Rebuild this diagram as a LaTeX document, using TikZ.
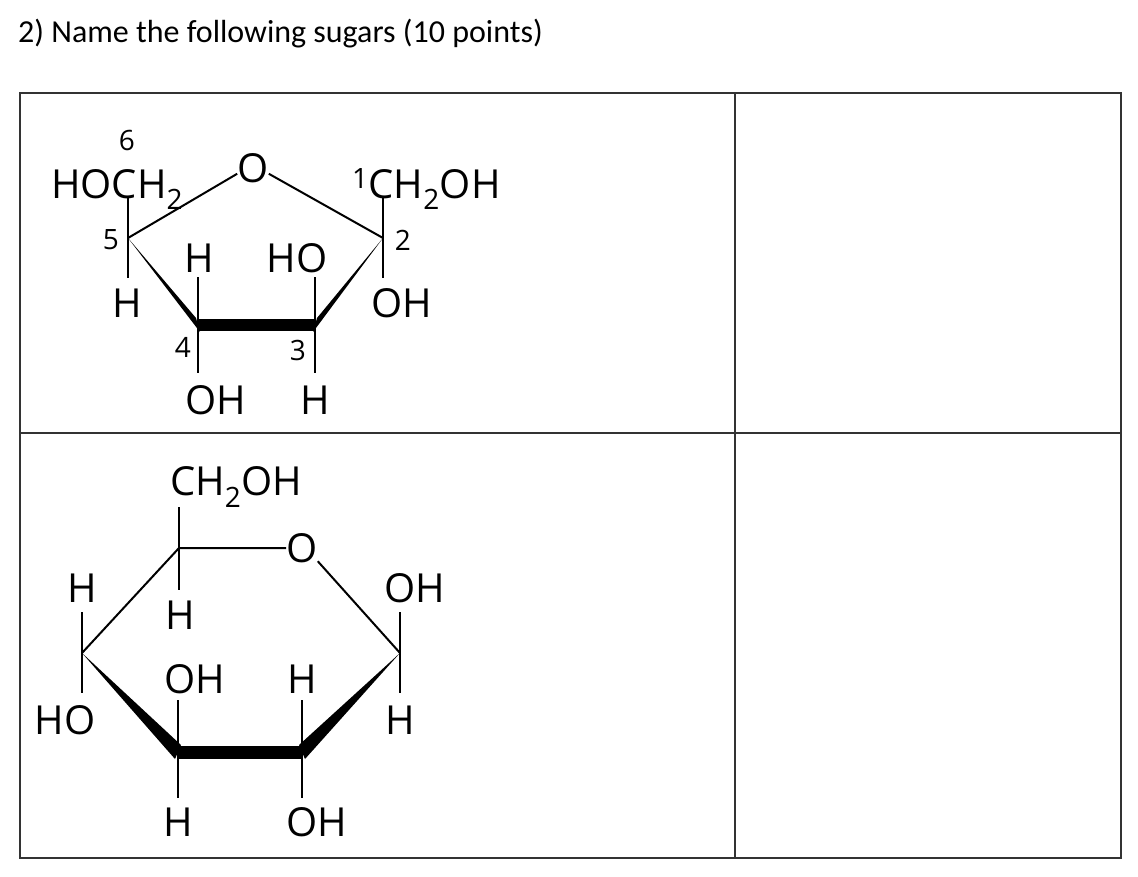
\documentclass[tikz,border=0pt]{standalone}
\usepackage{fontspec}
\setmainfont{Open Sans}
\newfontfamily\titlefont{Carlito}
\usetikzlibrary{calc}
\begin{document}
\begin{tikzpicture}[x=1pt,y=-1pt,
  lab/.style={inner sep=0pt,font=\fontsize{40}{40}\selectfont},
  num/.style={inner sep=0pt,font=\fontsize{28}{28}\selectfont},
  bond/.style={line width=2pt},
  grid/.style={line width=1.6pt,draw=black!80}]
\useasboundingbox (0,0) rectangle (1138,876);
% title
\node[anchor=west,inner sep=0pt,font=\titlefont\fontsize{32}{32}\selectfont] (title) at (18,34) {2) Name the following sugars (10 points)};
% table
\draw[grid] (20,93) rectangle (1121,858);
\draw[grid] (735,93) -- (735,858);
\draw[grid] (20,433) -- (1121,433);
% ---------- top molecule (furanose)
\coordinate (c5) at (128,238);
\coordinate (c4) at (198,325);
\coordinate (c3) at (315,325);
\coordinate (c2) at (383,238);
\node[lab] (o1) at (253,168) {O};
\node[lab,anchor=base west] (hoch) at (51,198) {HOCH\textsubscript{2}};
\node[num] (n6) at (127,140) {6};
\node[lab,anchor=base west] (ch2oh1) at (352,198) {\textsuperscript{1}CH\textsubscript{2}OH};
\node[num] (n5) at (111,240) {5};
\node[num] (n4) at (183,347) {4};
\node[num] (n3) at (298,350) {3};
\node[num] (n2) at (403,240) {2};
\node[lab] (h5) at (127,303) {H};
\node[lab] (h4) at (199,258) {H};
\node[lab] (ho3) at (297,258) {HO};
\node[lab] (oh2) at (402,303) {OH};
\node[lab] (oh4) at (216,400) {OH};
\node[lab] (h3) at (315,400) {H};
\draw[bond] (c5) -- (o1.200);
\draw[bond] (o1.-20) -- (c2);
\fill (c5) -- ($(c4)+(-2,-7)$) -- ($(c4)+(2,7)$) -- cycle;
\draw[line width=12pt] (c4) -- (c3);
\fill (c2) -- ($(c3)+(2,-7)$) -- ($(c3)+(-2,7)$) -- cycle;
\draw[bond] (c5) -- ++(0,40);
\draw[bond] (c5) -- ++(0,-40);
\draw[bond] (c4) -- ++(0,-48);
\draw[bond] (c4) -- ++(0,48);
\draw[bond] (c3) -- ++(0,-48);
\draw[bond] (c3) -- ++(0,48);
\draw[bond] (c2) -- ++(0,-40);
\draw[bond] (c2) -- ++(0,40);
% ---------- bottom molecule (pyranose)
\coordinate (d5) at (179,548);
\coordinate (d4) at (82,653);
\coordinate (d3) at (178,752);
\coordinate (d2) at (302,752);
\coordinate (d1) at (400,653);
\node[lab] (o2) at (302,548) {O};
\node[lab] (ch2oh2) at (236,487) {CH\textsubscript{2}OH};
\node[lab] (h5b) at (180,615) {H};
\node[lab] (oh1) at (415,588) {OH};
\node[lab] (h1) at (400,720) {H};
\node[lab] (h4b) at (82,588) {H};
\node[lab] (ho4) at (65,720) {HO};
\node[lab] (oh3) at (195,679) {OH};
\node[lab] (h3b) at (178,822) {H};
\node[lab] (h2b) at (302,679) {H};
\node[lab] (oh2b) at (317,822) {OH};
\draw[bond] (d4) -- (d5) -- (o2.west);
\draw[bond] (o2.-40) -- (d1);
\fill (d4) -- ($(d3)+(3,-7)$) -- ($(d3)+(-3,7)$) -- cycle;
\draw[line width=13pt] (d3) -- (d2);
\fill (d1) -- ($(d2)+(-3,-7)$) -- ($(d2)+(3,7)$) -- cycle;
\draw[bond] (d5) -- ++(0,-41);
\draw[bond] (d5) -- ++(0,42);
\draw[bond] (d4) -- ++(0,-41);
\draw[bond] (d4) -- ++(0,40);
\draw[bond] (d1) -- ++(0,-41);
\draw[bond] (d1) -- ++(0,40);
\draw[bond] (d3) -- ++(0,-52);
\draw[bond] (d3) -- ++(0,46);
\draw[bond] (d2) -- ++(0,-52);
\draw[bond] (d2) -- ++(0,46);
\end{tikzpicture}
\end{document}
